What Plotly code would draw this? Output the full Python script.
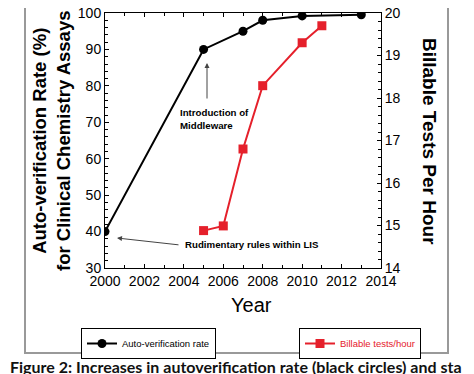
import plotly.graph_objects as go

# Data
av_years = [2000, 2005, 2007, 2008, 2010, 2013]
av_rate = [40, 90, 95, 98, 99.2, 99.5]
bt_years = [2005, 2006, 2007, 2008, 2010, 2011]
bt_rate = [14.88, 14.99, 16.8, 18.29, 19.3, 19.7]

OFF = 8  # page body margin
W, H = 474 - OFF, 374 - OFF
# plot area in reference pixels
L, R, T, B = 105, 381, 13, 268

def px(x):
    return (x - L) / (R - L)

def py(y):
    return (B - y) / (B - T)

FONT = "Arial, Liberation Sans, sans-serif"
RED = "#e5202b"

fig = go.Figure()
fig.add_trace(go.Scatter(
    x=av_years, y=av_rate, mode="lines+markers", name="Auto-verification rate",
    line=dict(color="black", width=2), marker=dict(symbol="circle", size=9, color="black"),
    legend="legend"))
fig.add_trace(go.Scatter(
    x=bt_years, y=bt_rate, mode="lines+markers", name="Billable tests/hour",
    line=dict(color=RED, width=2), marker=dict(symbol="square", size=9, color=RED),
    yaxis="y2", legend="legend2"))

axcommon = dict(showgrid=False, zeroline=False, showline=True, linecolor="black",
                linewidth=1, ticks="inside", ticklen=4, tickcolor="black",
                ticklabeloverflow="allow", tickfont=dict(size=14, family=FONT))

fig.update_layout(
    width=W, height=H,
    margin=dict(l=L - OFF, r=W - (R - OFF), t=T - OFF, b=H - (B - OFF), autoexpand=False),
    paper_bgcolor="white", plot_bgcolor="white",
    font=dict(family=FONT, color="black", size=14),
    xaxis=dict(range=[2000, 2014], dtick=2, tick0=2000, mirror="ticks",
               minor=dict(dtick=1, ticks="inside", ticklen=3, tickcolor="black"),
               **axcommon),
    yaxis=dict(range=[30, 100], dtick=10,
               minor=dict(dtick=2, ticks="inside", ticklen=3, tickcolor="black"),
               **axcommon),
    yaxis2=dict(range=[14, 20], dtick=1, overlaying="y", side="right",
                minor=dict(dtick=0.2, ticks="inside", ticklen=3, tickcolor="black"),
                **axcommon),
    legend=dict(x=px(81), y=py(328), xanchor="left", yanchor="top",
                bordercolor="black", borderwidth=1, bgcolor="white",
                font=dict(size=9.5, family=FONT, color="black"),
                itemwidth=30, tracegroupgap=0),
    legend2=dict(x=px(299), y=py(328), xanchor="left", yanchor="top",
                 bordercolor="black", borderwidth=1, bgcolor="white",
                 font=dict(size=9.5, family=FONT, color=RED),
                 itemwidth=30, tracegroupgap=0),
    showlegend=True,
)

def note(x, y, text, size, xanchor="center", **kw):
    return dict(xref="paper", yref="paper", x=px(x), y=py(y), xanchor=xanchor,
                yanchor="middle", text=text, showarrow=False,
                font=dict(size=size, family=kw.pop("family", FONT), color=kw.pop("color", "black")),
                **kw)

ann = [
    note(51, 141, "<b>Auto-verification Rate (%)<br>for Clinical Chemistry Assays</b>", 18.5,
         textangle=-90),
    note(430, 141, "<b>Billable Tests Per Hour</b>", 19, textangle=90),
    note(251, 305, "Year", 20),
    note(178, 119, "<b>Introduction of<br>Middleware</b>", 9.7, xanchor="left", align="left"),
    note(183, 244, "<b>Rudimentary rules within LIS</b>", 9.7, xanchor="left"),
    note(8, 366, "<b>Figure 2: Increases in autoverification rate (black circles) and sta</b>", 16,
         xanchor="left", family="Lato, sans-serif", color="#111"),
]
# arrows
ann.append(dict(xref="paper", yref="paper", x=px(207), y=py(63), ax=0, ay=37, text="",
                showarrow=True, arrowhead=2, arrowsize=1, arrowwidth=1, arrowcolor="#444"))
ann.append(dict(xref="paper", yref="paper", x=px(117), y=py(238), ax=63, ay=7, text="",
                showarrow=True, arrowhead=2, arrowsize=1, arrowwidth=1, arrowcolor="#444"))
fig.update_layout(annotations=ann)

fig.add_shape(type="rect", xref="paper", yref="paper",
              x0=px(25), x1=px(448), y0=py(353), y1=py(1),
              line=dict(color="#999999", width=2), layer="below")

fig.write_html("out.html")
